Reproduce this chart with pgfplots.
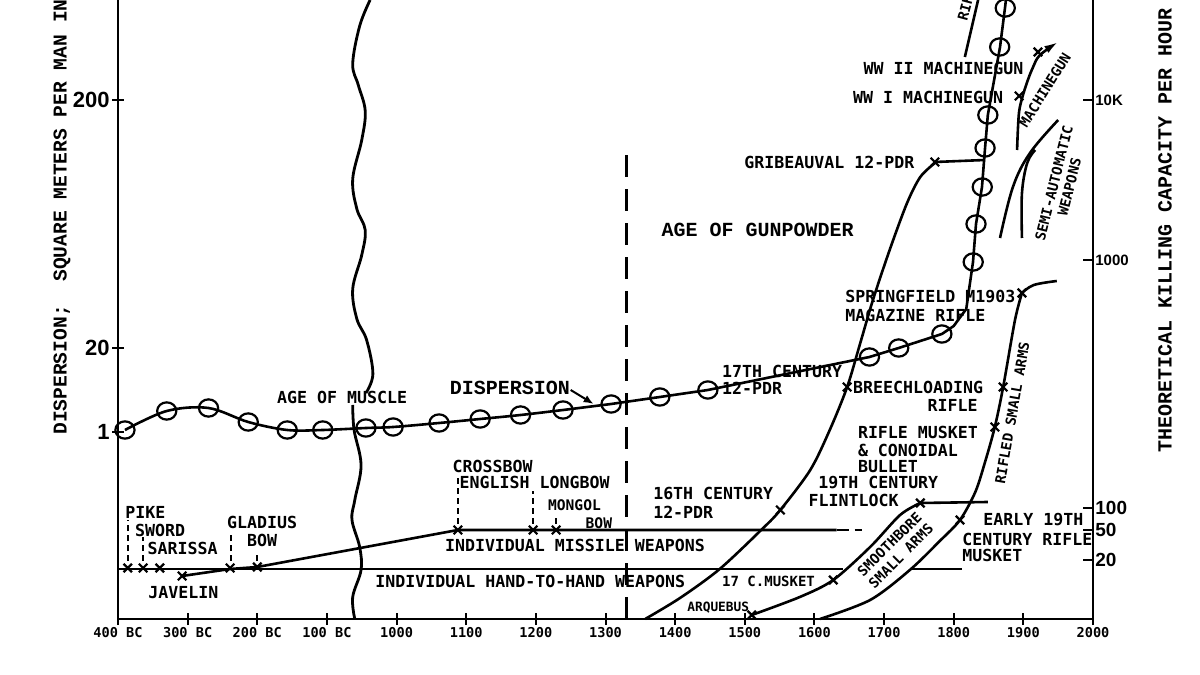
\documentclass[border=0pt]{standalone}
\usepackage{pgfplots}
\pgfplotsset{compat=1.18}
\usetikzlibrary{arrows.meta}
\usepackage{fontspec}
\setmainfont{DejaVu Sans Mono}
\newfontfamily\lab{DejaVu Sans Mono}
\newfontfamily\cour{Liberation Mono}
\newfontfamily\tk{Liberation Sans}
\tikzset{
  lbl/.style={font=\lab\bfseries\fontsize{8.3}{9}\selectfont, inner sep=0pt, anchor=west},
  slbl/.style={font=\lab\bfseries\fontsize{7}{8}\selectfont, inner sep=0pt, align=center},
}
\pgfplotsset{
  ln/.style={line width=1.3pt, black, solid, mark=none},
  xm/.style={only marks, black, mark=x, mark size=3pt, mark options={solid, line width=1.1pt}},
  om/.style={only marks, black, mark=o, mark size=4.8pt, mark options={solid, yscale=0.9, line width=1.1pt}},
  ldr/.style={black, line width=1pt, dash pattern=on 3pt off 2pt, mark=none},
}
\begin{document}
\begin{tikzpicture}
\useasboundingbox (0,0) rectangle (600pt,337.5pt);
\begin{axis}[
  at={(59pt,28pt)}, anchor=south west, scale only axis,
  width=487.5pt, height=309.5pt,
  xmin=600, xmax=2000, ymin=0, ymax=619,
  axis x line*=bottom, axis y line*=left,
  axis line style={line width=1.4pt, black},
  clip=false,
  cycle list={{black,solid,mark=none}},
  xtick={600,700,...,2000},
  xticklabels={400 BC,300 BC,200 BC,100 BC,1000,1100,1200,1300,1400,1500,1600,1700,1800,1900,2000},
  xticklabel style={font=\lab\bfseries\fontsize{6.8}{7}\selectfont, inner sep=1pt},
  ytick={187,271,519}, yticklabels={1,20,200},
  yticklabel style={font=\tk\bfseries\fontsize{11}{12}\selectfont, inner sep=1pt},
  tick align=center, major tick length=6pt,
  tick style={line width=1pt, black},
]
% Age of muscle wavy divider
\addplot[ln, smooth, tension=0.6, line width=1.4pt] coordinates {
 (962,619)(947,593)(937,555)(945,534)(955,508)(950,479)(937,440)(943,410)
 (955,389)(950,364)(937,330)(943,300)(957,279)(966,245)(956,226)};
\addplot[ln, smooth, tension=0.6, line width=1.4pt] coordinates {
 (937,214)(939,189)(949,154)(940,119)(936,99)(947,72)(949,49)(937,22)(940,0)};
% Age of gunpowder dashed divider
\addplot[ln, line width=1.5pt, dash pattern=on 11pt off 6pt] coordinates {(1330,0)(1330,469)};

% Dispersion
\addplot[ln, smooth, tension=0.55] coordinates {
 (610,189)(670,208)(730,211)(787,197)(843,189)(894,189)(956,191)(995,192)
 (1061,196)(1120,200)(1178,204)(1239,209)(1308,215)};
\addplot[om] coordinates {
 (610,189)(670,208)(730,211)(787,197)(843,189)(894,189)(956,191)(995,192)
 (1061,196)(1120,200)(1178,204)(1239,209)(1308,215)};
\addplot[ln] coordinates {(1308,215)(1378,222)(1447,229)(1679,262)(1721,271)(1783,285)
 (1800,293)(1818,310)(1827.7,357)(1832,395)(1840.6,432)(1845,471)(1849,504)(1866.5,572)(1873.6,611)(1875,619)};
\addplot[om] coordinates {
 (1378,222)(1447,229)(1679,262)(1721,271)(1783,285)(1828,357)(1832,395)(1841,432)(1845,471)(1849,504)(1866,572)(1874,611)};

% Individual hand-to-hand weapons
\addplot[ln] coordinates {(600,50)(1641,50)};
\addplot[ln] coordinates {(1737,50)(1812,50)};
% Individual missile weapons
\addplot[ln] coordinates {(692,43)(761,50)(800,52)(1088,89)(1632,89)};
\addplot[ln, dash pattern=on 6pt off 3pt] coordinates {(1632,89)(1668,89)};
\addplot[xm] coordinates {
 (614,51)(636,51)(660,51)(692,43)(761,51)(800,52)(1088,89)(1196,89)(1229,89)};
% leaders
\addplot[ldr] coordinates {(614,58)(614,99)};
\addplot[ldr] coordinates {(636,58)(636,82)};
\addplot[ldr] coordinates {(762,58)(762,86)};
\addplot[ldr] coordinates {(800,58)(800,68)};
\addplot[ldr] coordinates {(1088,95)(1088,143)};
\addplot[ldr] coordinates {(1196,95)(1196,128)};
\addplot[ldr] coordinates {(1229,95)(1229,103)};

% Artillery
\addplot[ln, smooth, tension=0.5] coordinates {(1357,0)(1407,21)(1464,50)(1525,90)(1551,109)(1594,149)
 (1622,189)(1647,232)(1665,274)(1684,319)(1708,369)(1733,416)(1752,442)(1773,456)};
\addplot[ln] coordinates {(1773,457)(1845,459)};
\addplot[xm] coordinates {(1551,109)(1647,232)(1773,457)};

% Smoothbore small arms
\addplot[ln, smooth, tension=0.5] coordinates {(1510,4)(1579,22)(1627,39)(1680,72)(1723,104)(1752,116)};
\addplot[ln] coordinates {(1752,116)(1849,117)};
\addplot[xm] coordinates {(1510,4)(1627,39)(1752,116)};

% Rifled small arms
\addplot[ln, smooth, tension=0.5] coordinates {(1608,0)(1680,19)(1737,49)(1780,78)(1809,99)(1831,127)(1845,157)
 (1859,192)(1871,232)(1888,299)(1898,326)};
\addplot[ln, smooth, tension=0.6] coordinates {(1898,326)(1915,334)(1948,338)};
\addplot[xm] coordinates {(1809,99)(1859,192)(1871,232)(1898,326)};

% Machinegun
\addplot[ln, smooth, tension=0.6, -{Latex[length=7pt,width=4pt]}] coordinates {(1891,469)(1892.5,494)(1895,512)(1904,534)(1914,552)(1924,564)(1950,577)};
\addplot[xm] coordinates {(1894,523)(1921,567)};
% Semi-automatic weapons
\addplot[ln, smooth, tension=0.6] coordinates {(1866.5,381)(1885,432)(1909.5,466)(1950,499)};
\addplot[ln, smooth, tension=0.6] coordinates {(1898,381)(1898,426)(1905.5,456)(1917,469)};
% rifled artillery (cut)
\addplot[ln] coordinates {(1816,562)(1835,619)};

% Labels
\node[lbl] at (axis cs:828,222) {AGE OF MUSCLE};
\node[font=\cour\bfseries\fontsize{10}{11}\selectfont, inner sep=0pt, anchor=west] at (axis cs:1076,231) {DISPERSION};
\draw[line width=1pt, -{Latex[length=5pt,width=4pt]}] (axis cs:1250,229) -- (axis cs:1283,215);
\node[font=\cour\bfseries\fontsize{10}{11}\selectfont, inner sep=0pt, anchor=west] at (axis cs:1380,389) {AGE OF GUNPOWDER};
\node[lbl, anchor=east] at (axis cs:1744,457) {GRIBEAUVAL 12-PDR};
\node[lbl] at (axis cs:1644,322) {SPRINGFIELD M1903};
\node[lbl] at (axis cs:1644,304) {MAGAZINE RIFLE};
\node[lbl] at (axis cs:1467,248) {17TH CENTURY};
\node[lbl] at (axis cs:1467,231) {12-PDR};
\node[lbl] at (axis cs:1655,232) {BREECHLOADING};
\node[lbl, anchor=east] at (axis cs:1835,214) {RIFLE};
\node[lbl] at (axis cs:1662,187) {RIFLE MUSKET};
\node[lbl] at (axis cs:1662,169) {\& CONOIDAL};
\node[lbl] at (axis cs:1662,152) {BULLET};
\node[lbl] at (axis cs:1605,137) {19TH CENTURY};
\node[lbl] at (axis cs:1591,119) {FLINTLOCK};
\node[lbl] at (axis cs:1842,99) {EARLY 19TH};
\node[lbl] at (axis cs:1812,80) {CENTURY RIFLE};
\node[lbl] at (axis cs:1812,64) {MUSKET};
\node[lbl] at (axis cs:1368,126) {16TH CENTURY};
\node[lbl] at (axis cs:1368,107) {12-PDR};
\node[lbl] at (axis cs:1080,153) {CROSSBOW};
\node[lbl] at (axis cs:1090,137) {ENGLISH LONGBOW};
\node[lbl, font=\lab\bfseries\fontsize{7.3}{8}\selectfont] at (axis cs:1217,114) {MONGOL};
\node[lbl, font=\lab\bfseries\fontsize{7.3}{8}\selectfont] at (axis cs:1271,96) {BOW};
\node[lbl] at (axis cs:610,107) {PIKE};
\node[lbl] at (axis cs:624,89) {SWORD};
\node[lbl] at (axis cs:642,71) {SARISSA};
\node[lbl] at (axis cs:643,26) {JAVELIN};
\node[lbl] at (axis cs:756,97) {GLADIUS};
\node[lbl] at (axis cs:785,79) {BOW};
\node[lbl] at (axis cs:1069,74) {INDIVIDUAL MISSILE WEAPONS};
\node[lbl] at (axis cs:969,38) {INDIVIDUAL HAND-TO-HAND WEAPONS};
\node[lbl, font=\lab\bfseries\fontsize{7}{8}\selectfont] at (axis cs:1467,38) {17 C.MUSKET};
\node[lbl, font=\lab\bfseries\fontsize{6.4}{7}\selectfont] at (axis cs:1417,11) {ARQUEBUS};
\node[lbl] at (axis cs:1670,551) {WW II MACHINEGUN};
\node[lbl] at (axis cs:1655,522) {WW I MACHINEGUN};
\node[slbl, rotate=45] at (axis cs:1716,69) {SMOOTHBORE\\SMALL ARMS};
\node[slbl, rotate=80] at (axis cs:1884,206) {RIFLED SMALL ARMS};
\node[slbl, rotate=58] at (axis cs:1931,529) {MACHINEGUN};
\node[slbl, rotate=76] at (axis cs:1955,434) {SEMI-AUTOMATIC\\WEAPONS};
\node[slbl, rotate=75, anchor=west] at (axis cs:1812,598) {RIFLED ARTILLERY};
% axis titles
\node[font=\cour\bfseries\fontsize{9.8}{10}\selectfont, rotate=90, anchor=west, inner sep=0pt] at ([xshift=-28pt]axis cs:600,184) {DISPERSION;\ \ SQUARE METERS PER MAN IN};
\node[font=\cour\bfseries\fontsize{10}{10}\selectfont, rotate=90, anchor=center, inner sep=0pt] at ([xshift=36pt]axis cs:2000,389) {THEORETICAL KILLING CAPACITY PER HOUR};
\end{axis}
\begin{axis}[
  at={(59pt,28pt)}, anchor=south west, scale only axis,
  width=487.5pt, height=309.5pt,
  xmin=600, xmax=2000, ymin=0, ymax=619,
  axis x line=none, axis y line*=right,
  axis line style={line width=1.4pt, black},
  ytick={59,89,111,359,519},
  yticklabels={20,50,100,{\fontsize{7.5}{8}\selectfont 1000},{\fontsize{7.5}{8}\selectfont 10K}},
  yticklabel style={font=\tk\bfseries\fontsize{9.5}{10}\selectfont, inner sep=1pt},
  tick align=inside, major tick length=5pt,
  tick style={line width=1pt, black},
]
\addplot[draw=none] coordinates {(600,0)(2000,619)};
\end{axis}
\end{tikzpicture}
\end{document}
